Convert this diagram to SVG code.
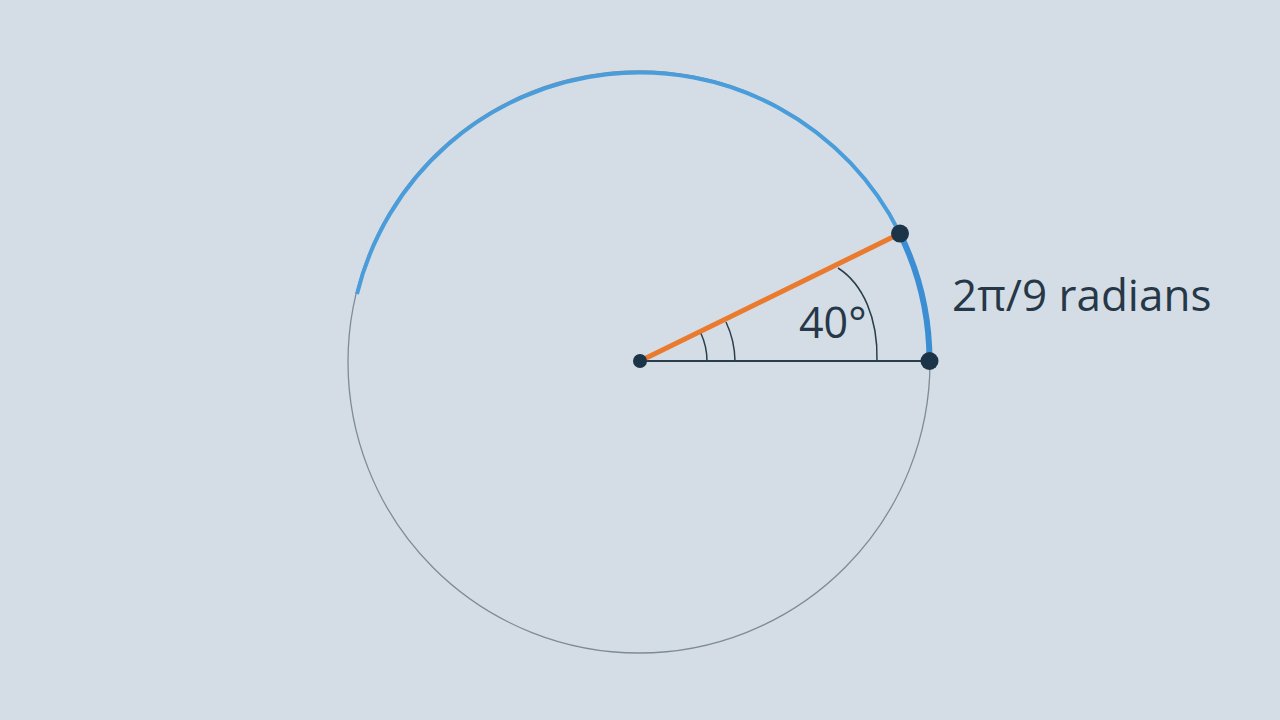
<svg xmlns="http://www.w3.org/2000/svg" width="1280" height="720" viewBox="0 0 1280 720">
<style>
.lbl{font-family:"Open Sans","Liberation Sans",sans-serif;fill:#263847}
.thin{fill:none;stroke:#2a3d4c;stroke-width:1.5}
.dot{fill:#1c3448}
</style>
<rect width="1280" height="720" fill="#d4dde5"/>
<g id="circle">
<circle cx="639" cy="362" r="291" fill="none" stroke="#7d8b96" stroke-width="1.3"/>
<path d="M 900 233.6 A 291 291 0 0 0 357 293.9" fill="none" stroke="#4a9ddb" stroke-width="4"/>
<path d="M 929.5 361 A 290 290 0 0 0 900 233.6" fill="none" stroke="#3b8ed3" stroke-width="6"/>
</g>
<g id="connectors">
<line x1="640" y1="361" x2="929.5" y2="361" stroke="#2a3d4c" stroke-width="2"/>
<line x1="640" y1="361" x2="900" y2="233.6" stroke="#ea7a2e" stroke-width="5" stroke-linecap="round"/>
<path class="thin" d="M 707 361 A 67 67 0 0 0 701 333.5"/>
<path class="thin" d="M 735 361 A 95 95 0 0 0 726 322"/>
<path class="thin" d="M 838 268 C 863 284, 878 318, 877 361"/>
</g>
<g id="center"><circle class="dot" cx="640" cy="361" r="7"/></g>
<g id="point-a"><circle class="dot" cx="929.5" cy="361" r="9"/></g>
<g id="point-b"><circle class="dot" cx="900" cy="233.6" r="9"/></g>
<g id="angle-label"><text class="lbl" x="799" y="338" font-size="43">40°</text></g>
<g id="radians-label"><text class="lbl" x="952" y="311" font-size="44">2π/9 radians</text></g>
</svg>
